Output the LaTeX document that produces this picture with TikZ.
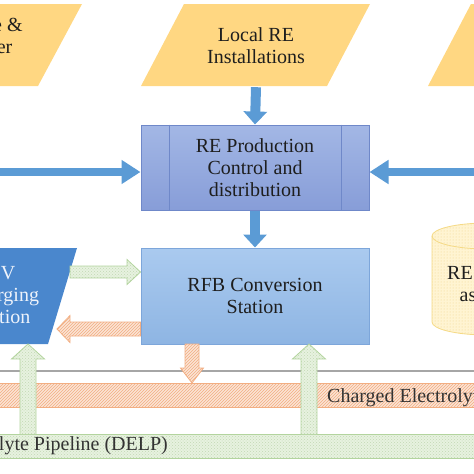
\documentclass[tikz,border=0pt]{standalone}
\usepackage{fontspec}
\setmainfont{Liberation Serif}
\usetikzlibrary{arrows.meta,patterns,calc}
\definecolor{yel}{HTML}{FFD782}
\definecolor{txt}{HTML}{1E1E1E}
\definecolor{prodtop}{HTML}{A3B7E5}
\definecolor{prodbot}{HTML}{879DD8}
\definecolor{prodline}{HTML}{6F88C9}
\definecolor{rfbtop}{HTML}{AACAEF}
\definecolor{rfbbot}{HTML}{8EB5E3}
\definecolor{rfbline}{HTML}{7DA6DA}
\definecolor{arrblue}{HTML}{5B9BD5}
\definecolor{evblue}{HTML}{4A87CD}
\definecolor{evtext}{HTML}{EEF3FB}
\definecolor{orfill}{HTML}{FBE4D5}
\definecolor{orline}{HTML}{F2AE82}
\definecolor{grfill}{HTML}{E7F2DF}
\definecolor{grline}{HTML}{B3D49E}
\definecolor{grdot}{HTML}{C2D8B4}
\definecolor{cylfill}{HTML}{FFF4D2}
\definecolor{cylline}{HTML}{F5DA86}
\definecolor{cyldot}{HTML}{EED38A}
\definecolor{sepgray}{HTML}{A6A6A6}
\begin{document}
\begin{tikzpicture}[x=1pt,y=-1pt,
  every node/.style={font=\fontsize{20}{21.8}\selectfont, text=txt, align=center, inner sep=0pt},
  prodbox/.style={draw=prodline, line width=1, top color=prodtop, bottom color=prodbot},
  rfbbox/.style={draw=rfbline, line width=1, top color=rfbtop, bottom color=rfbbot},
  hblue/.style={draw=arrblue, line width=8, -{Triangle[length=19pt,width=23pt]}},
  vblue/.style={draw=arrblue, line width=10, -{Triangle[length=13pt,width=23pt]}},
  orblock/.style={preaction={fill=orfill}, pattern=north east lines, pattern color=orline, draw=orline, line width=0.8},
  grblock/.style={preaction={fill=grfill}, pattern=crosshatch dots, pattern color=grdot, draw=grline, line width=0.8},
  cylstyle/.style={preaction={fill=cylfill}, pattern=dots, pattern color=cyldot, draw=cylline, line width=0.8}
]
\useasboundingbox (0,0) rectangle (474,474);
\clip (0,0) rectangle (474,474);

% top row parallelograms
\fill[yel] (-147,86) -- (38,86) -- (82,4) -- (-103,4) -- cycle;
\node (grid) at (-39,36) {Grid Storage \&\\RE Producer};
\fill[yel] (141,86) -- (327,86) -- (370,4) -- (184,4) -- cycle;
\node[minimum width=184, minimum height=82] (local) at (256,46) {Local RE\\Installations};
\fill[yel] (428,86) -- (614,86) -- (657,4) -- (471,4) -- cycle;

% RE production control
\node[prodbox, minimum width=228, minimum height=85] (prod) at (255,167.5) {RE Production\\Control and\\distribution};
\draw[prodline, line width=1] ($(prod.north west)+(29,0)$) -- ($(prod.south west)+(29,0)$);
\draw[prodline, line width=1] ($(prod.north east)+(-28,0)$) -- ($(prod.south east)+(-28,0)$);

% RFB station
\node[rfbbox, minimum width=228, minimum height=96] (rfb) at (255,296) {RFB Conversion\\Station};

% blue arrows
\draw[vblue] (local.south) -- (prod.north);
\coordinate (lin) at (-5,172);
\coordinate (rin) at (479,172);
\draw[hblue] (lin) -- (prod.west |- lin);
\draw[hblue] (rin) -- (prod.east |- rin);
\draw[vblue] (prod.south) -- (rfb.north);

% EV charging station
\fill[evblue] (-120,248) -- (77,248) -- (48,344) -- (-120,344) -- cycle;
\node[text=evtext] (ev) at (2,295) {EV\\Charging\\Station};

% RE assets cylinder
\path[cylstyle] (432,236) -- (432,322) arc[start angle=180, end angle=0, x radius=55, y radius=13]
  -- (542,236) arc[start angle=0, end angle=-180, x radius=55, y radius=13] -- cycle;
\draw[cylline, line width=0.8] (432,236) arc[start angle=180, end angle=0, x radius=55, y radius=13];
\node (assets) at (483,284) {RE Plant\\assets};

% separator and pipelines
\draw[sepgray, line width=1.5] (0,371) -- (474,371);
\path[orblock] (-5,383) rectangle (480,407);
\node[anchor=base west, text=black!80] (celp) at (327,402) {Charged Electrolyte Pipeline (CELP)};
\path[grblock] (-5,434) rectangle (480,458);
\node[anchor=base east, text=black!80] (delp) at (168,450) {Discharged Electrolyte Pipeline (DELP)};

% block arrows
% EV -> RFB (green)
\path[grblock] (70,266) -- (127,266) -- (127,259.5) -- (rfb.west |- 0,272) -- (127,284.5) -- (127,278) -- (70,278) -- cycle;
% RFB -> EV (orange)
\path[orblock] (rfb.west |- 0,322) -- (70,322) -- (70,315.5) -- (57,329) -- (70,342.5) -- (70,336) -- (rfb.west |- 0,336) -- cycle;
% RFB -> CELP (orange, down)
\path[orblock] (185,344) -- (199,344) -- (199,368) -- (203.5,368) -- (192,383) -- (180.5,368) -- (185,368) -- cycle;
% DELP -> EV (green, up)
\path[grblock] (20,434) -- (20,359) -- (11.5,359) -- (28,344) -- (44.5,359) -- (36,359) -- (36,434);
% DELP -> RFB (green, up)
\path[grblock] (301,434) -- (301,359) -- (292.5,359) -- (309,344) -- (325.5,359) -- (317,359) -- (317,434);
\end{tikzpicture}
\end{document}
